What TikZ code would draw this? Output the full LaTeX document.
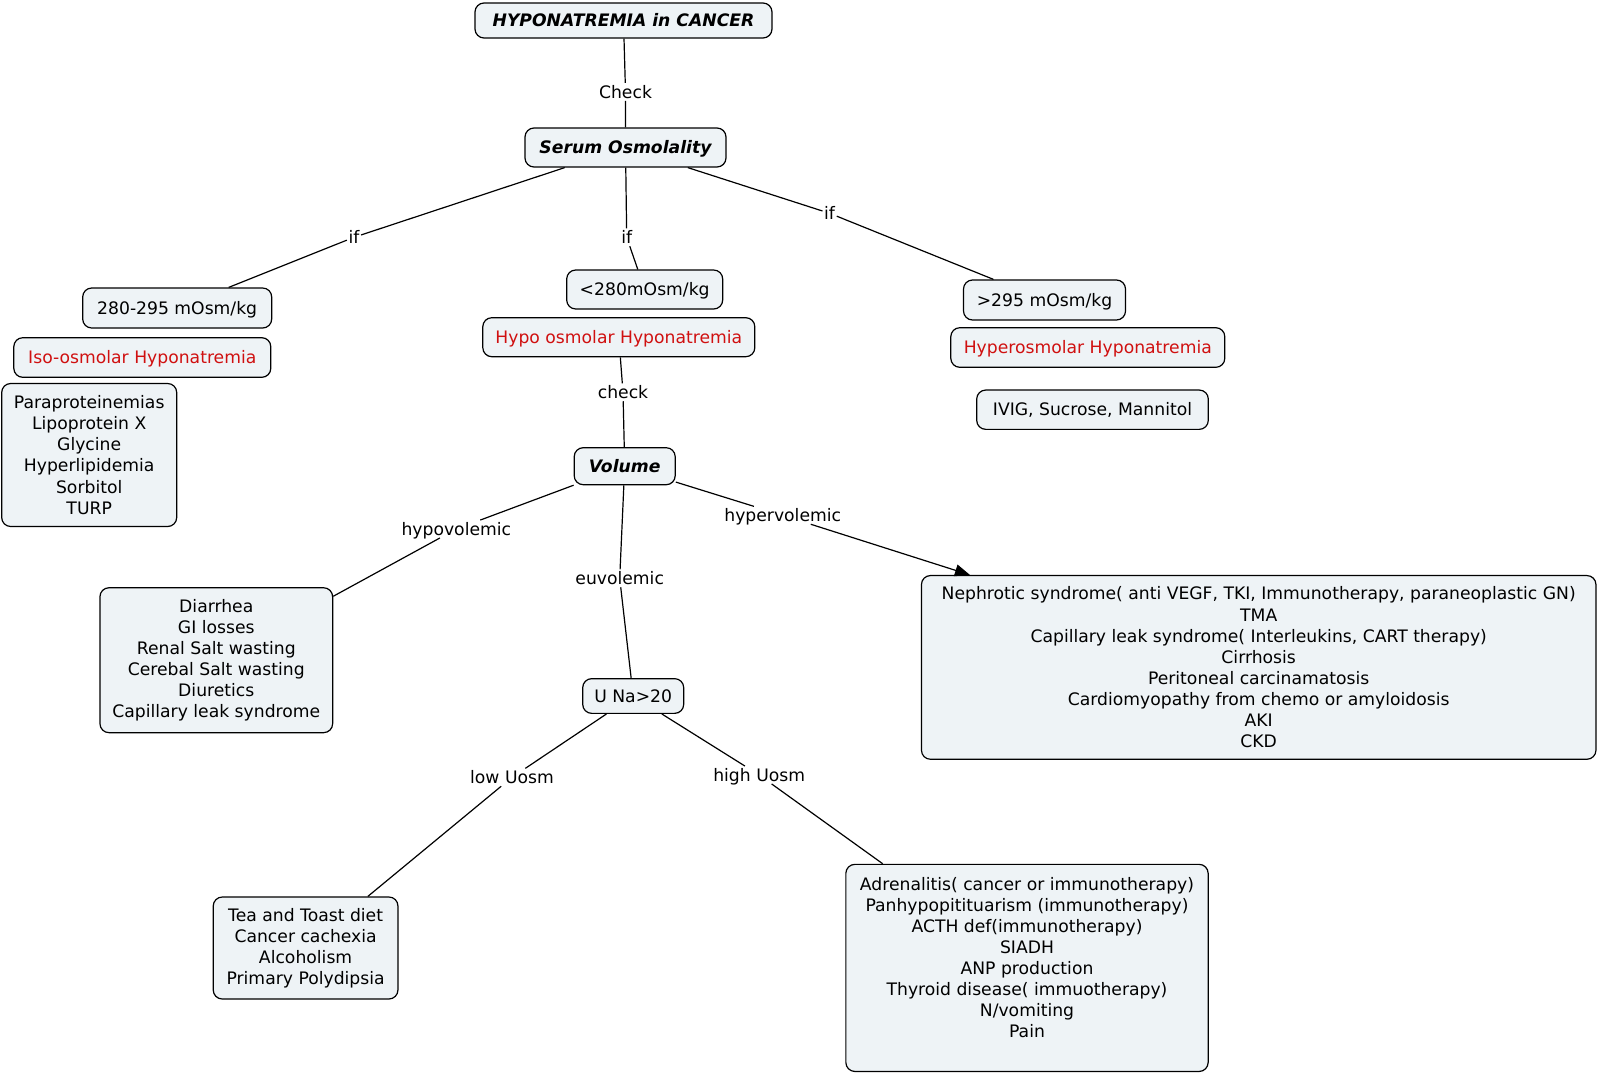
\documentclass[tikz,border=0pt]{standalone}
\usepackage{fontspec}
\setmainfont{DejaVu Sans}
\usetikzlibrary{arrows.meta}

\definecolor{boxfill}{RGB}{238,243,246}
\definecolor{namered}{RGB}{208,16,16}

\tikzset{
  box/.style = {draw, rounded corners = 9pt, fill = boxfill, line width = 1.2pt,
                inner sep = 0pt, font = \fontsize{17.2}{21.1}\selectfont},
  onebox/.style = {box, text height = 13.5pt, text depth = 1pt},
  namebox/.style = {onebox, text = namered},
  keybox/.style = {onebox, font = \fontsize{17.2}{21.1}\selectfont\bfseries\itshape},
  listbox/.style = {box, align = center},
  lbl/.style = {inner sep = 1.5pt, text height = 13.5pt, text depth = 1pt,
                font = \fontsize{17.2}{21.1}\selectfont},
  link/.style = {line width = 1.2pt}
}

\begin{document}
\begin{tikzpicture}[x = 1pt, y = -1pt]
  \useasboundingbox (0, 0) rectangle (1600, 1076);
  % top
  \node [keybox, minimum width = 297pt, minimum height = 35pt] (head) at (623.5, 20.5) {HYPONATREMIA in CANCER};
  \node [keybox, minimum width = 201pt, minimum height = 39pt] (serum) at (625.5, 147.5) {Serum Osmolality};
  % iso osmolar
  \node [onebox, minimum width = 189pt, minimum height = 40pt] (iso) at (177.2, 308) {280-295 mOsm/kg};
  \node [namebox, minimum width = 257pt, minimum height = 39.6pt] (isoname) at (142.3, 357.5) {Iso-osmolar Hyponatremia};
  \node [listbox, minimum width = 175pt, minimum height = 143pt] (isolist) at (89.2, 455)
    {Paraproteinemias\\Lipoprotein X\\Glycine\\Hyperlipidemia\\Sorbitol\\TURP};
  % hypo osmolar
  \node [onebox, minimum width = 156pt, minimum height = 39pt] (low) at (644.7, 289.5) {<280mOsm/kg};
  \node [namebox, minimum width = 272pt, minimum height = 39pt] (hyponame) at (618.8, 337.2) {Hypo osmolar Hyponatremia};
  % hyper osmolar
  \node [onebox, minimum width = 162pt, minimum height = 40pt] (high) at (1044.5, 300) {>295 mOsm/kg};
  \node [namebox, minimum width = 274pt, minimum height = 39.6pt] (hypername) at (1087.8, 347.5) {Hyperosmolar Hyponatremia};
  \node [onebox, minimum width = 231.6pt, minimum height = 39.3pt] (hyperlist) at (1092.5, 409.7) {IVIG, Sucrose, Mannitol};
  % volume
  \node [keybox, minimum width = 101pt, minimum height = 37pt] (volume) at (624.7, 466.2) {Volume};
  \node [listbox, minimum width = 232.7pt, minimum height = 144.9pt] (hypovol) at (216.3, 660.2)
    {Diarrhea\\GI losses\\Renal Salt wasting\\Cerebal Salt wasting\\Diuretics\\Capillary leak syndrome};
  \node [listbox, minimum width = 674.5pt, minimum height = 183.7pt] (hypervol) at (1258.7, 667.4)
    {Nephrotic syndrome( anti VEGF, TKI, Immunotherapy, paraneoplastic GN)\\TMA\\
     Capillary leak syndrome( Interleukins, CART therapy)\\Cirrhosis\\Peritoneal carcinamatosis\\
     Cardiomyopathy from chemo or amyloidosis\\AKI\\CKD};
  \node [onebox, minimum width = 101pt, minimum height = 34.7pt] (una) at (633.2, 696) {U Na>20};
  \node [listbox, minimum width = 184.7pt, minimum height = 102pt] (lowuosm) at (305.6, 948)
    {Tea and Toast diet\\Cancer cachexia\\Alcoholism\\Primary Polydipsia};
  \node [listbox, minimum width = 362.3pt, minimum height = 207.1pt] (highuosm) at (1027, 967.9)
    {Adrenalitis( cancer or immunotherapy)\\Panhypopitituarism (immunotherapy)\\ACTH def(immunotherapy)\\
     SIADH\\ANP production\\Thyroid disease( immuotherapy)\\N/vomiting\\Pain\\~};
  % link labels
  \node [lbl] (checkserum) at (625.5, 91.8) {Check};
  \node [lbl] (ifiso) at (354, 237.3) {if};
  \node [lbl] (iflow) at (626.7, 237.3) {if};
  \node [lbl] (ifhigh) at (829.6, 213.3) {if};
  \node [lbl] (checkvol) at (623, 392.3) {check};
  \node [lbl] (hypolbl) at (456.3, 529) {hypovolemic};
  \node [lbl] (euvolbl) at (619.7, 578.3) {euvolemic};
  \node [lbl] (hyperlbl) at (782.7, 515.3) {hypervolemic};
  \node [lbl] (lowlbl) at (512, 777.3) {low Uosm};
  \node [lbl] (highlbl) at (759.2, 775) {high Uosm};
  % links
  \draw [link] (head) -- (checkserum) -- (serum);
  \draw [link] (serum) -- (ifiso) -- (iso);
  \draw [link] (serum) -- (iflow) -- (low);
  \draw [link] (serum) -- (ifhigh) -- (high);
  \draw [link] (hyponame) -- (checkvol) -- (volume);
  \draw [link] (volume) -- (hypolbl) -- (hypovol);
  \draw [link] (volume) -- (euvolbl) -- (una);
  \draw [link, -{Triangle[length = 15pt, width = 12pt]}] (volume) -- (hyperlbl) -- (hypervol);
  \draw [link] (una) -- (lowlbl) -- (lowuosm);
  \draw [link] (una) -- (highlbl) -- (highuosm);
\end{tikzpicture}
\end{document}
